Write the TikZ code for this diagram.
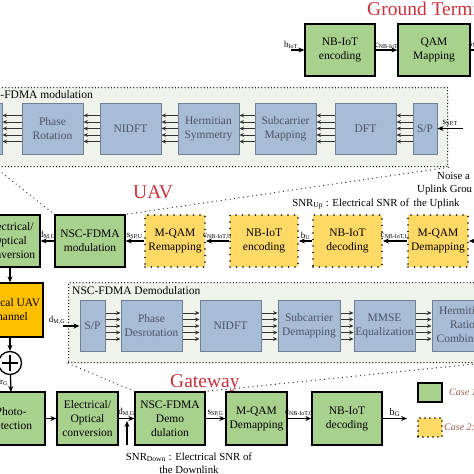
\documentclass[tikz,border=0pt]{standalone}
\usepackage{fontspec}
\setmainfont{Liberation Serif}
\usetikzlibrary{arrows.meta,positioning,calc}
\definecolor{gfill}{HTML}{A9D18E}
\definecolor{yfill}{HTML}{FFD966}
\definecolor{ofill}{HTML}{FFC000}
\definecolor{bfill}{HTML}{A9BCD6}
\definecolor{bdraw}{HTML}{6F7F94}
\definecolor{btext}{HTML}{4B5466}
\definecolor{dfill}{HTML}{EFF3EC}
\definecolor{tred}{HTML}{C8323C}
\definecolor{ctext}{HTML}{9C5B4B}
\tikzset{
  box/.style={align=center,inner sep=0pt,minimum height=52pt,font=\fontsize{11.5}{14}\selectfont},
  gbox/.style={box,draw=black,line width=1.3pt,fill=gfill},
  ybox/.style={box,fill=yfill,draw=black,line width=1.8pt,dash pattern=on 0pt off 6.5pt,line cap=round},
  bblk/.style={box,fill=bfill,draw=bdraw,line width=1pt,text=btext,minimum height=51pt},
  arr/.style={-{Stealth[length=6pt,width=5pt]},line width=1.3pt},
  parr/.style={-{Stealth[length=4.5pt,width=4pt]},line width=1pt,draw=black!80},
  lbl/.style={font=\fontsize{9}{10}\selectfont,inner sep=1pt},
  dbox/.style={fill=dfill,draw=black,line width=1.3pt,dash pattern=on 0pt off 3.2pt,line cap=round,inner sep=0pt},
  callout/.style={draw=black!85,line width=1.3pt,dash pattern=on 0pt off 4.5pt,line cap=round},
  ttl/.style={text=tred,font=\fontsize{19.5}{22}\selectfont,inner sep=0pt},
  note/.style={font=\fontsize{10.8}{13}\selectfont,inner sep=0pt},
}
\begin{document}
\begin{tikzpicture}[x=1pt,y=-1pt]
\useasboundingbox (0,0) rectangle (474,474);
\clip (0,0) rectangle (474,474);

% Ground terminal
\node[ttl,anchor=base west] (tGT) at (367,15) {Ground Terminal};
\node[gbox,minimum width=70pt] (encT) at (340,50) {NB-IoT\\encoding};
\node[gbox,minimum width=72pt] (qamT) at (434,50) {QAM\\Mapping};
\coordinate (inT) at (291,50);
\coordinate (outT) at (482,50);
\draw[arr] (inT) -- node[lbl,pos=0,above] (lbT) {b\textsubscript{IoT}} (encT);
\draw[arr] (encT) -- node[lbl,above] (lcT) {c\textsubscript{NB-IoT}} (qamT);
\draw[arr] (qamT) -- node[lbl,above] (lsT) {s\textsubscript{M,T}} (outT);

% NSC-FDMA modulation (zoom)
\node[dbox,minimum width=452pt,minimum height=79pt,anchor=north west] (modbox) at (-5,87) {};
\node[note,font=\fontsize{11.5}{14}\selectfont,anchor=base east] (tmod) at (93,98) {NSC-FDMA modulation};
\node[bblk,minimum width=61pt] (blk0) at (-28.5,128.5) {};
\node[bblk,minimum width=61pt] (rot) at (52.5,128.5) {Phase\\Rotation};
\node[bblk,minimum width=61pt] (nidft) at (130.5,128.5) {NIDFT};
\node[bblk,minimum width=61pt] (herm) at (208.5,128.5) {Hermitian\\Symmetry};
\node[bblk,minimum width=61pt] (subm) at (285.5,128.5) {Subcarrier\\Mapping};
\node[bblk,minimum width=61pt] (dft) at (365.5,128.5) {DFT};
\node[bblk,minimum width=24pt] (sp) at (425,128.5) {S/P};
\foreach \a/\b in {rot/blk0,nidft/rot,herm/nidft,subm/herm,dft/subm,sp/dft}
  \foreach \k in {-13,-6.5,0,6.5,13}
    \draw[parr] ([yshift=\k pt]\a.west) -- ([yshift=\k pt]\b.east);
\coordinate (inSP) at (463,128.5);
\draw[arr] (inSP) -- node[lbl,above] (lsp) {s\textsubscript{SP,T}} (sp);

% UAV
\node[ttl,anchor=base west] (tUAV) at (133,198) {UAV};
\node[note,anchor=base west] (tnoise) at (437,179) {Noise a};
\node[note,anchor=base west] (tgrou) at (417,192) {Uplink Grou};
\node[note,anchor=base] (tsnrU) at (376,206) {SNR\textsubscript{Up} : Electrical SNR of\, the Uplink};
\node[gbox,minimum width=60pt] (eoU) at (10,241) {Electrical/\\Optical\\conversion};
\node[gbox,minimum width=70pt] (nscmod) at (90,241) {NSC-FDMA\\modulation};
\node[ybox,minimum width=60pt] (remap) at (175,241) {M-QAM\\Remapping};
\node[ybox,minimum width=68pt] (encU) at (264,241) {NB-IoT\\encoding};
\node[ybox,minimum width=69pt] (decU) at (347.5,241) {NB-IoT\\decoding};
\node[ybox,minimum width=60pt] (demapU) at (438,241) {M-QAM\\Demapping};
\coordinate (inU) at (482,241);
\draw[callout] (modbox.south west) -- (nscmod.north west);
\draw[callout] (modbox.south east) -- (nscmod.north east);
\draw[arr] (inU) -- (demapU);
\draw[arr] (demapU) -- node[lbl,above] (lcU2) {c\textsubscript{NB-IoT,U}} (decU);
\draw[arr] (decU) -- node[lbl,above] (lbU) {b\textsubscript{U}} (encU);
\draw[arr] (encU) -- node[lbl,above] (lcU) {c\textsubscript{NB-IoT,U}} (remap);
\draw[arr] (remap) -- node[lbl,above] (lsU) {s\textsubscript{SP,U}} (nscmod);
\draw[arr] (nscmod) -- node[lbl,above] (ldU) {d\textsubscript{M,U}} (eoU);

% channel
\node[box,draw=black,line width=1.3pt,fill=ofill,minimum width=66pt,minimum height=54pt] (chan) at (10,310) {Optical UAV\\channel};
\node[circle,draw,line width=1.3pt,minimum size=23pt,inner sep=0pt] (sum) at (10,363) {};
\draw[line width=1.3pt] ([yshift=8pt]sum.center) -- ([yshift=-8pt]sum.center)
  ([xshift=-8pt]sum.center) -- ([xshift=8pt]sum.center);
\draw[arr] (eoU) -- (chan);
\draw[arr] (chan) -- (sum);

% NSC-FDMA demodulation (zoom)
\node[dbox,minimum width=412pt,minimum height=80pt,anchor=north west] (dembox) at (68,282) {};
\node[note,font=\fontsize{11.5}{14}\selectfont,anchor=base west] (tdem) at (72,294) {NSC-FDMA Demodulation};
\node[bblk,minimum width=25pt] (spD) at (92.5,326) {S/P};
\node[bblk,minimum width=61pt] (desrot) at (151.5,326) {Phase\\Desrotation};
\node[bblk,minimum width=61pt] (nidftD) at (230.5,326) {NIDFT};
\node[bblk,minimum width=62pt] (subd) at (309,326) {Subcarrier\\Demapping};
\node[bblk,minimum width=61pt] (mmse) at (384.5,326) {MMSE\\Equalization};
\node[bblk,minimum width=61pt] (hrc) at (462.5,326) {Hermitian\\Ratio\\Combining};
\foreach \a/\b in {spD/desrot,desrot/nidftD,nidftD/subd,subd/mmse,mmse/hrc}
  \foreach \k in {-13,-6.5,0,6.5,13}
    \draw[parr] ([yshift=\k pt]\a.east) -- ([yshift=\k pt]\b.west);
\coordinate (inD) at (63,326);
\draw[arr] (inD) -- node[lbl,pos=0,above,xshift=-6pt] (ldD) {d\textsubscript{M,G}} (spD);

% Gateway
\node[ttl,anchor=base west] (tGW) at (170,387) {Gateway};
\node[gbox,minimum width=68pt,minimum height=53pt] (pd) at (11,418.5) {Photo-\\detection};
\node[gbox,minimum width=61pt,minimum height=53pt] (eoG) at (87.5,418.5) {Electrical/\\Optical\\conversion};
\node[gbox,minimum width=70pt,minimum height=53pt] (nscdem) at (170,418.5) {NSC-FDMA\\Demo\\dulation};
\node[gbox,minimum width=61pt,minimum height=53pt] (demapG) at (256.5,418.5) {M-QAM\\Demapping};
\node[gbox,minimum width=70pt,minimum height=53pt] (decG) at (347,418.5) {NB-IoT\\decoding};
\coordinate (outG) at (407,418.5);
\draw[callout] (dembox.south west) -- (nscdem.north west);
\draw[callout] (dembox.south east) -- (nscdem.north east);
\draw[arr] (sum) -- node[lbl,pos=0.45,left,xshift=-1pt] (lrG) {r\textsubscript{G}} (11,392);
\draw[arr] (pd) -- (eoG);
\draw[arr] (eoG) -- node[lbl,above] (ldG) {d\textsubscript{M,G}} (nscdem);
\draw[arr] (nscdem) -- node[lbl,above] (lsG) {s\textsubscript{SP,G}} (demapG);
\draw[arr] (demapG) -- node[lbl,above] (lcG) {c\textsubscript{NB-IoT,G}} (decG);
\draw[arr] (decG) -- node[lbl,above,font=\fontsize{10}{12}\selectfont] (lbG) {b\textsubscript{G}} (outG);
\coordinate (snrD) at (127,445);
\coordinate (snrDtip) at (127,421);
\draw[arr] (snrD) -- (snrDtip);
\node[note,align=center] (tsnrD) at (189,463) {SNR\textsubscript{Down} : Electrical SNR of\\the Downlink};

% legend
\node[gbox,minimum width=24pt,minimum height=19pt] (legG) at (430,392.5) {};
\node[ybox,minimum width=24pt,minimum height=19pt,dash pattern=on 0pt off 5pt] (legY) at (430,427.5) {};
\node[note,text=ctext,font=\fontsize{10}{12}\itshape,anchor=west] (tleg1) at (449,392.5) {Case 1:};
\node[note,text=ctext,font=\fontsize{10}{12}\itshape,anchor=west] (tleg2) at (444,427.5) {Case 2:};
\end{tikzpicture}
\end{document}
